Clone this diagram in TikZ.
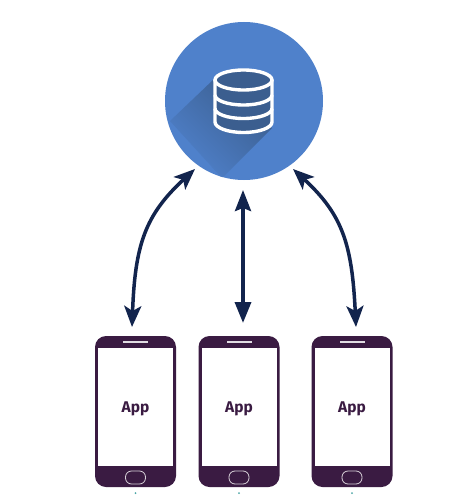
\documentclass[tikz,border=0pt]{standalone}
\usepackage{fontspec}
\setmainfont{Fira Sans}
\usetikzlibrary{arrows.meta,shapes.geometric}
\definecolor{dbblue}{HTML}{4F81CB}
\definecolor{dbdark}{HTML}{3B5E8F}
\definecolor{navy}{HTML}{12244D}
\definecolor{plum}{HTML}{3A1B42}
\tikzset{
  phonebody/.style={draw=none,fill=plum,rounded corners=11pt,minimum width=81pt,minimum height=151pt,inner sep=0pt,outer sep=0pt},
  phonescreen/.style={fill=white,minimum width=75pt,minimum height=118pt,inner sep=0pt},
  phonetext/.style={inner sep=0pt,text=plum,font=\fontsize{15.5}{17}\selectfont\bfseries},
  phonespeaker/.style={fill=white!85!plum,minimum width=25pt,minimum height=2.2pt,inner sep=0pt},
  phonehome/.style={draw=white!80!plum,line width=.8pt,rounded corners=6pt,minimum width=20pt,minimum height=13pt,inner sep=0pt},
  phonedot/.style={circle,fill=teal!70,minimum size=2pt,inner sep=0pt},
  link/.style={draw=navy,line width=3.5pt,{Stealth[length=21pt,width=17pt,inset=5pt]}-{Stealth[length=21pt,width=17pt,inset=5pt]}},
  midlink/.style={draw=navy,line width=3.5pt,{Stealth[length=21pt,width=16pt,inset=3pt]}-{Stealth[length=21pt,width=16pt,inset=0pt]}},
  dbline/.style={draw=white,line width=3.4pt},
}
\begin{document}
\begin{tikzpicture}[x=1pt,y=-1pt]
\useasboundingbox (0,0) rectangle (474,503);
\fill[white] (0,0) rectangle (474,503);
% server
\node[circle,fill=dbblue,minimum size=158pt,inner sep=0pt] (db) at (244,101) {};
\begin{scope}
  \clip (244,101) circle (79);
  \shade[left color=dbblue,right color=dbdark,shading angle=135]
    (213,80) -- (170,121) -- (222,178) -- (272,128) -- cycle;
\end{scope}
% database icon
\fill[dbdark] (215,80) -- (215,122) arc[start angle=180,end angle=0,x radius=28.5,y radius=10.5] -- (272,80) arc[start angle=0,end angle=-180,x radius=28.5,y radius=10] -- cycle;
\draw[dbline] (215,80) -- (215,122) arc[start angle=180,end angle=0,x radius=28.5,y radius=10.5] -- (272,80);
\draw[dbline] (243.5,80) ellipse[x radius=28.5,y radius=10];
\draw[dbline] (215,95) arc[start angle=180,end angle=0,x radius=28.5,y radius=10];
\draw[dbline] (215,108.5) arc[start angle=180,end angle=0,x radius=28.5,y radius=10];
% phones
\foreach \n/\cx in {a/135.5,b/239,c/352}{
  \node[phonebody] (phone\n) at (\cx,411.5) {};
  \node[phonescreen] (screen\n) at (\cx,407) {};
  \node[phonetext] (text\n) at (\cx,408.5) {App};
  \node[phonespeaker] (speaker\n) at (\cx,342) {};
  \node[phonehome] (home\n) at (\cx,477.5) {};
  \node[phonedot] (dot\n) at (\cx,493) {};
}
% connectors
\coordinate (lt) at (195,169); \coordinate (lb) at (132,327);
\coordinate (mt) at (243,190); \coordinate (mb) at (243,323);
\coordinate (rt) at (293,169); \coordinate (rb) at (356,327);
\draw[link] (lb) .. controls (135,245) and (145,215) .. (lt);
\draw[midlink] (mt) -- (mb);
\draw[link] (rb) .. controls (352,245) and (343,215) .. (rt);
\end{tikzpicture}
\end{document}
